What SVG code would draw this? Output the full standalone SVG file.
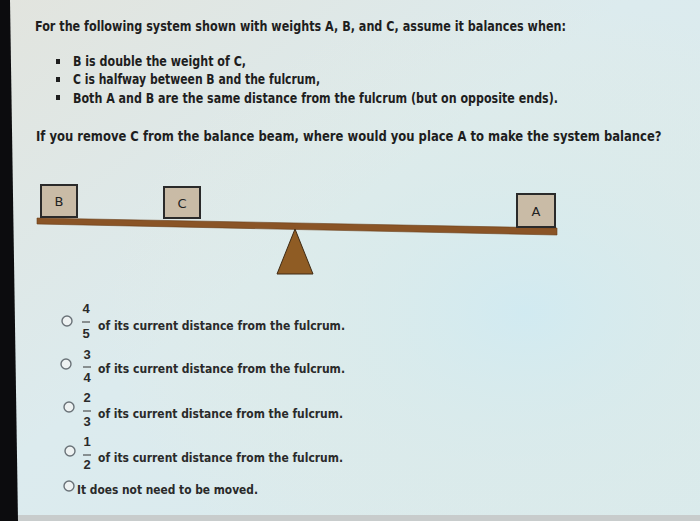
<svg xmlns="http://www.w3.org/2000/svg" width="700" height="521" viewBox="0 0 700 521">
<defs>
<linearGradient id="bg" x1="0" y1="0" x2="1" y2="1">
<stop offset="0" stop-color="#e2e4de"/>
<stop offset="0.45" stop-color="#dcebee"/>
<stop offset="1" stop-color="#d8eaee"/>
</linearGradient>
<radialGradient id="glow" cx="0.75" cy="0.6" r="0.6">
<stop offset="0" stop-color="#cfeaf2" stop-opacity="0.8"/>
<stop offset="1" stop-color="#e8ecdc" stop-opacity="0"/>
</radialGradient>
<style>
.t{font-family:"DejaVu Sans Condensed","DejaVu Sans",sans-serif;font-weight:bold;fill:#1e1e1e;font-size:14px}
.o{font-family:"DejaVu Sans Condensed","DejaVu Sans",sans-serif;font-weight:bold;fill:#2a2a2a;font-size:13px}
.f{font-family:"Liberation Sans",Arial,sans-serif;font-weight:bold;fill:#2a2a2a;font-size:13px;text-anchor:middle}
.box{fill:#c9bba6;stroke:#2a2a2a;stroke-width:2}
.bl{font-family:"DejaVu Sans","Liberation Sans",sans-serif;fill:#222;font-size:13px;text-anchor:middle}
.rad{fill:#eef2f2;stroke:#6a7278;stroke-width:1.4}
.bar{stroke:#333;stroke-width:1}
</style>
</defs>
<rect width="700" height="521" fill="url(#bg)"/>
<rect width="700" height="521" fill="url(#glow)"/>
<polygon points="0,0 10,0 18,521 0,521" fill="#0c0c0e"/>
<rect x="18" y="515" width="682" height="6" fill="#c8cccc"/>

<g id="intro">
<text class="t" x="35" y="31" textLength="531" lengthAdjust="spacingAndGlyphs">For the following system shown with weights A, B, and C, assume it balances when:</text>
<rect x="56" y="59" width="4" height="5" fill="#1e1e1e"/>
<rect x="56" y="77" width="4" height="5" fill="#1e1e1e"/>
<rect x="56" y="95" width="4" height="5" fill="#1e1e1e"/>
<text class="t" x="73" y="66" textLength="173" lengthAdjust="spacingAndGlyphs">B is double the weight of C,</text>
<text class="t" x="73" y="84" textLength="247" lengthAdjust="spacingAndGlyphs">C is halfway between B and the fulcrum,</text>
<text class="t" x="73" y="103" textLength="485" lengthAdjust="spacingAndGlyphs">Both A and B are the same distance from the fulcrum (but on opposite ends).</text>
</g>
<g id="question">
<text class="t" x="0" y="0" transform="translate(36 141) scale(0.8 1)" textLength="782" lengthAdjust="spacingAndGlyphs">If you remove C from the balance beam, where would you place A to make the system balance?</text>
</g>

<g id="beam">
<polygon points="37,218 557,228 557,235 37,224" fill="#8a5426" stroke="#6a3e1a" stroke-width="0.6"/>
</g>
<g id="fulcrum">
<polygon points="295,229 277,274 313,274" fill="#8f5c24" stroke="#3e2a14" stroke-width="1"/>
</g>
<g id="box-B">
<rect class="box" x="41" y="185" width="36" height="32"/>
<text class="bl" x="59" y="206">B</text>
</g>
<g id="box-C">
<rect class="box" x="164" y="187" width="36" height="31"/>
<text class="bl" x="182" y="208">C</text>
</g>
<g id="box-A">
<rect class="box" x="517" y="194" width="38" height="33"/>
<text class="bl" x="536" y="216">A</text>
</g>

<g id="opt1">
<circle class="rad" cx="67" cy="321" r="5"/>
<text class="f" x="86" y="313">4</text>
<line class="bar" x1="82" y1="322" x2="90" y2="322"/>
<text class="f" x="86" y="338">5</text>
<text class="o" x="98" y="330" textLength="247" lengthAdjust="spacingAndGlyphs">of its current distance from the fulcrum.</text>
</g>
<g id="opt2">
<circle class="rad" cx="66" cy="364" r="5"/>
<text class="f" x="87" y="359">3</text>
<line class="bar" x1="83" y1="367" x2="91" y2="367"/>
<text class="f" x="87" y="382">4</text>
<text class="o" x="98" y="373" textLength="247" lengthAdjust="spacingAndGlyphs">of its current distance from the fulcrum.</text>
</g>
<g id="opt3">
<circle class="rad" cx="69" cy="407" r="5"/>
<text class="f" x="87" y="402">2</text>
<line class="bar" x1="83" y1="411" x2="91" y2="411"/>
<text class="f" x="87" y="426">3</text>
<text class="o" x="98" y="418" textLength="245" lengthAdjust="spacingAndGlyphs">of its current distance from the fulcrum.</text>
</g>
<g id="opt4">
<circle class="rad" cx="70" cy="451" r="5"/>
<text class="f" x="87" y="446">1</text>
<line class="bar" x1="83" y1="455" x2="91" y2="455"/>
<text class="f" x="87" y="469">2</text>
<text class="o" x="98" y="462" textLength="245" lengthAdjust="spacingAndGlyphs">of its current distance from the fulcrum.</text>
</g>
<g id="opt5">
<circle class="rad" cx="69" cy="486" r="5"/>
<text class="o" x="77" y="494" textLength="181" lengthAdjust="spacingAndGlyphs">It does not need to be moved.</text>
</g>
</svg>
